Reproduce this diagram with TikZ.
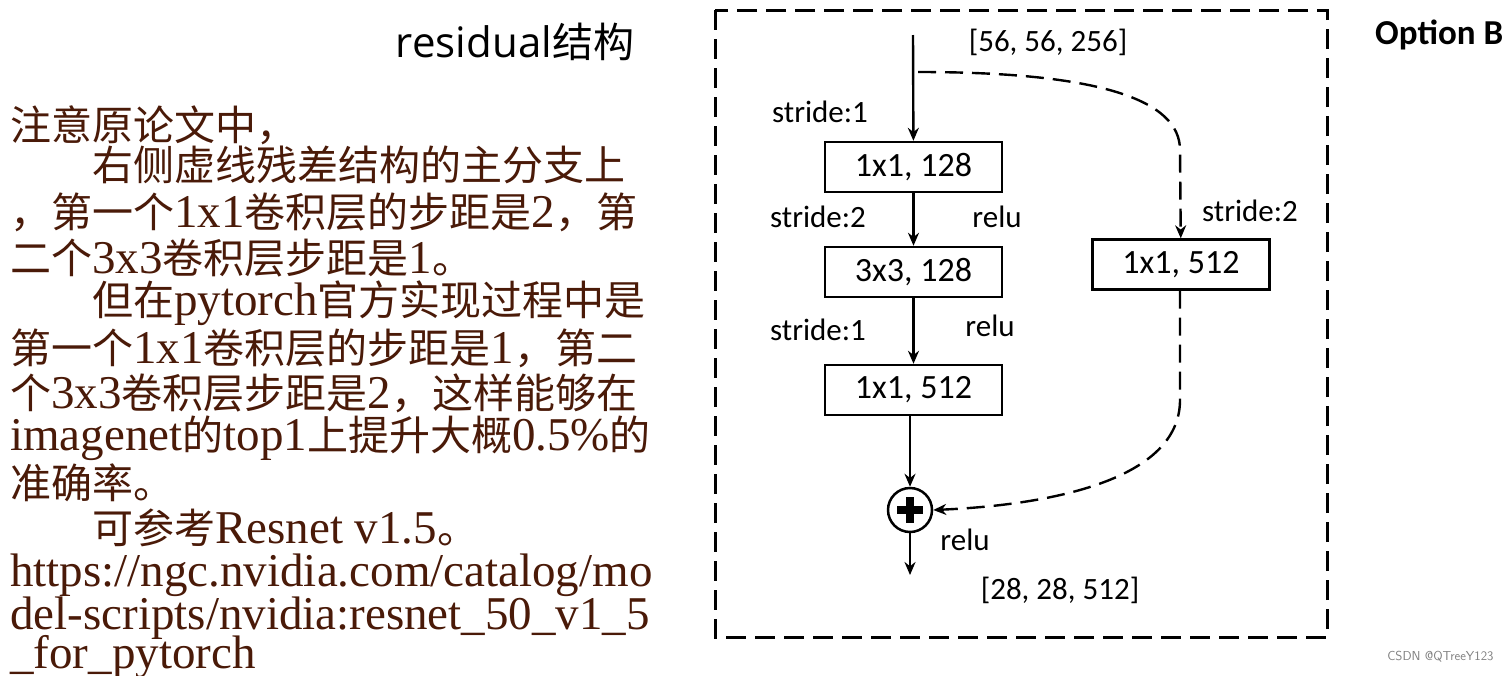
\documentclass[tikz,border=0pt]{standalone}
\usepackage{fontspec}
\setmainfont{Liberation Serif}
\newfontfamily\cjk{Noto Sans CJK SC}
\newfontfamily\dg{Carlito}
\newfontfamily\ttl{Open Sans}
\usetikzlibrary{arrows.meta}
\definecolor{brn}{HTML}{4A1A08}
\newcommand{\cj}[1]{{\cjk\fontsize{41}{44}\selectfont #1}}
\begin{document}
\begin{tikzpicture}[x=1pt,y=-1pt,
 lt/.style={anchor=west,inner sep=0pt,text=brn,font=\fontsize{47}{50}\selectfont},
 blk/.style={draw,line width=2.4pt,minimum width=177pt,minimum height=50pt,font=\dg\fontsize{34}{38}\selectfont},
 lab/.style={font=\dg\fontsize{31}{34}\selectfont,inner sep=0pt},
 arr/.style={line width=2.4pt,-{Stealth[length=13pt,width=11pt]}},
 darr/.style={line width=2.4pt,dash pattern=on 18pt off 9pt,-{Stealth[length=13pt,width=11pt]}}]
\useasboundingbox (0,0) rectangle (1510,675);
\fill[white] (0,0) rectangle (1510,675);
\node[font=\ttl\fontsize{42}{46}\selectfont,inner sep=0pt] (title) at (515,42) {residual\cj{结构}};
\draw[line width=3pt,dash pattern=on 20pt off 9pt] (715,10) rectangle (1327,637);
\node[font=\dg\bfseries\fontsize{35}{38}\selectfont,anchor=west,inner sep=0pt] (opt) at (1375,35) {Option B};
% left text
\node[lt] (l1) at (10,125) {\cj{注意原论文中，}};
\node[lt] (l2) at (10,165) {\cj{　　右侧虚线残差结构的主分支上}};
\node[lt] (l3) at (10,212) {\cj{，第一个}1x1\cj{卷积层的步距是}2\cj{，第}};
\node[lt] (l4) at (10,258) {\cj{二个}3x3\cj{卷积层步距是}1\cj{。}};
\node[lt] (l5) at (10,303) {\cj{　　但在}pytorch\cj{官方实现过程中是}};
\node[lt] (l6) at (10,348) {\cj{第一个}1x1\cj{卷积层的步距是}1\cj{，第二}};
\node[lt] (l7) at (10,393) {\cj{个}3x3\cj{卷积层步距是}2\cj{，这样能够在}};
\node[lt] (l8) at (10,438) {imagenet\cj{的}top1\cj{上提升大概}0.5\%\cj{的}};
\node[lt] (l9) at (10,483) {\cj{准确率。}};
\node[lt] (l10) at (10,528) {\cj{　　可参考}Resnet v1.5\cj{。}};
\node[lt] (l11) at (10,575) {https://ngc.nvidia.com/catalog/mo};
\node[lt] (l12) at (10,618) {del-scripts/nvidia:resnet\_50\_v1\_5};
\node[lt] (l13) at (10,657) {\_for\_pytorch};
% diagram
\coordinate (top) at (913,35);
\coordinate (sc) at (918,72);
\node[blk] (b1) at (913.5,167) {1x1, 128};
\node[blk] (b2) at (913.5,272) {3x3, 128};
\node[blk] (b3) at (913.5,390) {1x1, 512};
\node[blk] (b4) at (1181,264.5) {1x1, 512};
\node[circle,draw,line width=2.5pt,minimum size=44pt,inner sep=0pt] (plus) at (910,510) {};
\fill (plus.center) ++(-13,-4) rectangle ++(26,8);
\fill (plus.center) ++(-4,-13) rectangle ++(8,26);
\coordinate (out) at (910,575);
\draw[arr] (top) -- (b1);
\draw[arr] (b1) -- (b2);
\draw[arr] (b2) -- (b3);
\draw[arr] (b3.south -| plus) -- (plus);
\draw[arr] (plus) -- (out);
\draw[darr] (sc) .. controls (1100,72) and (1180,100) .. (1180,150) -- (b4);
\draw[darr] (b4.south -| 1180,0) -- (1180,400) .. controls (1180,480) and (1050,505) .. (plus.east);
\node[lab] (in) at (1048,42) {[56, 56, 256]};
\node[lab] (s1) at (820,112) {stride:1};
\node[lab] (s2) at (818,217) {stride:2};
\node[lab] (r1) at (997,217) {relu};
\node[lab] (s3) at (818,330) {stride:1};
\node[lab] (r2) at (990,326) {relu};
\node[lab] (s4) at (1250,211) {stride:2};
\node[lab] (r3) at (965,540) {relu};
\node[lab] (o) at (1060,590) {[28, 28, 512]};
\node[font=\sffamily\fontsize{13}{15}\selectfont,text=gray,anchor=east] (wm) at (1497,657) {CSDN @QTreeY123};
\end{tikzpicture}
\end{document}
